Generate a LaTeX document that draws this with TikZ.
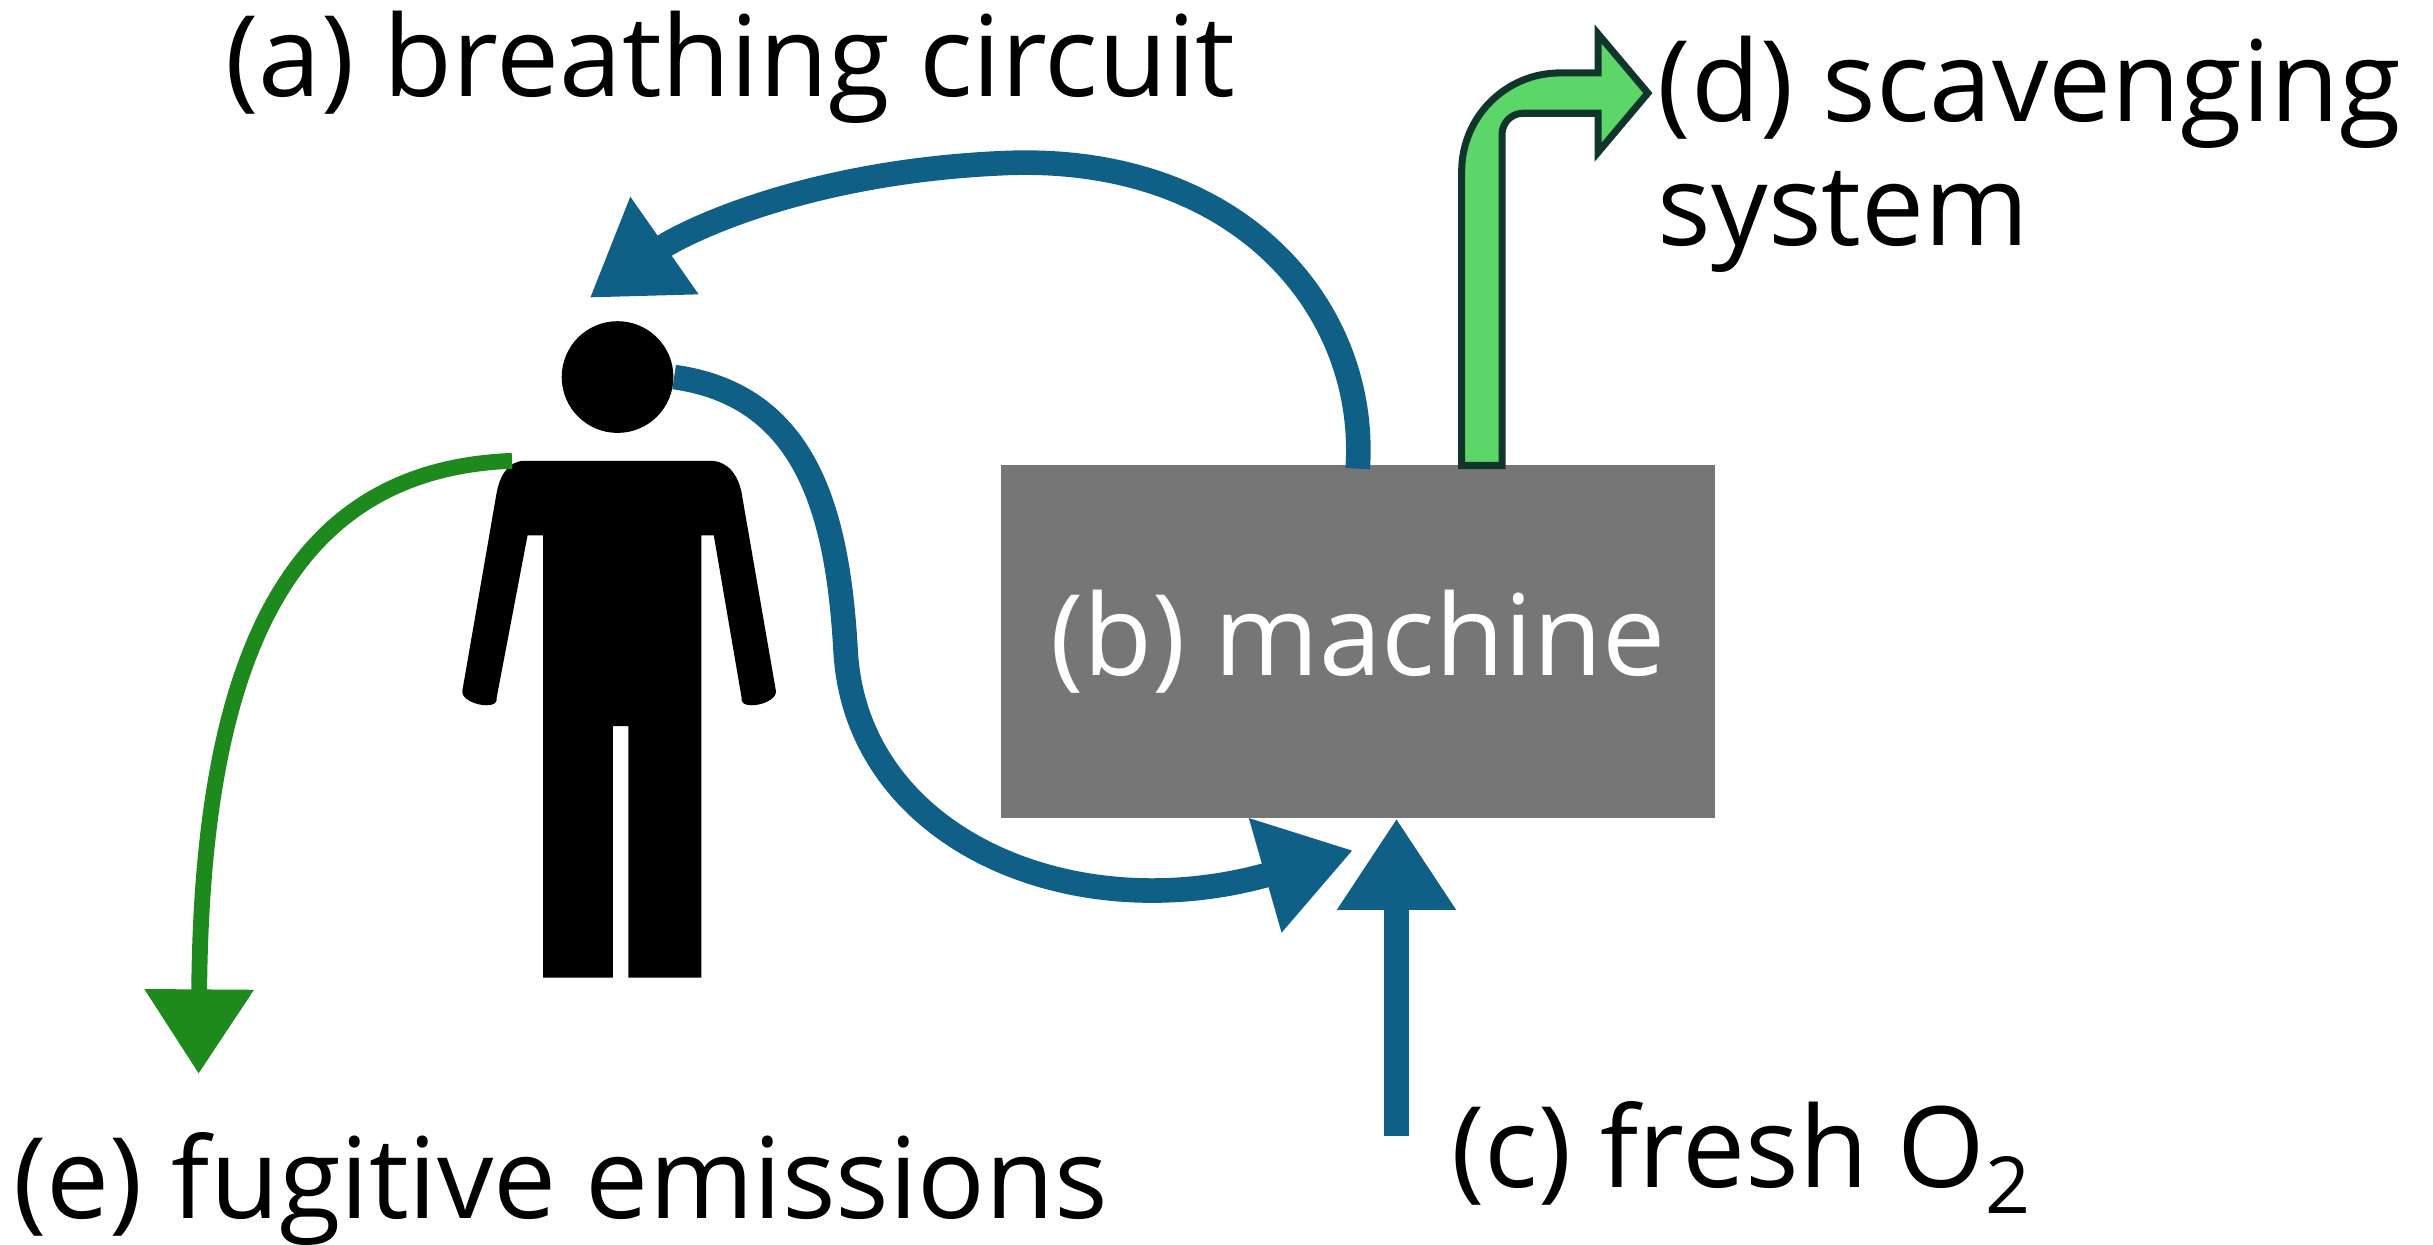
\documentclass[tikz,border=0pt]{standalone}
\usepackage{fontspec}
\setmainfont{Open Sans}
\usetikzlibrary{arrows.meta}
\definecolor{flowblue}{HTML}{0F5F87}
\definecolor{machgray}{HTML}{767676}
\definecolor{scavgreen}{HTML}{5DD669}
\definecolor{scavdark}{HTML}{10362B}
\definecolor{fuggreen}{HTML}{1E8A1E}
\begin{document}
\begin{tikzpicture}[x=0.015517cm,y=-0.015517cm,
  lab/.style={anchor=base west,font=\fontsize{32}{38}\selectfont,inner sep=0},
  blueflow/.style={draw=flowblue,line width=7pt,-{Triangle[width=32pt,length=26pt]}},
  fugflow/.style={draw=fuggreen,line width=4.5pt,-{Triangle[width=30pt,length=24pt]}}]
\useasboundingbox (0,0) rectangle (1568,802);
% machine
\node[fill=machgray,minimum width=460*0.015517cm,minimum height=227*0.015517cm,inner sep=0,
  text=white,font=\fontsize{32}{38}\selectfont] (mach) at (875,413.5) {(b) machine};
% person
\node[circle,fill=black,minimum size=72*0.015517cm,inner sep=0] (head) at (398,243) {};
\fill[black] (338,297) -- (458,297) to[out=0,in=100] (478,318) -- (500,445) to[out=-80,in=-100] (478,450) -- (460,345)
  -- (452,345) -- (452,630) -- (405,630) -- (405,468) -- (395,468) -- (395,630) -- (350,630) -- (350,345)
  -- (340,345) -- (320,450) to[out=-80,in=-100] (298,445) -- (320,318) to[out=80,in=180] (338,297) -- cycle;
\coordinate (pshoulder) at (330,297);
\coordinate (ein) at (128,692);
\coordinate (cin) at (900,732);
\coordinate (mtop) at (875,302);
% (a) breathing circuit
\draw[blueflow] (mtop) .. controls (882,200) and (800,100) .. (650,105) .. controls (520,110) and (440,150) .. (380,192);
% exhalation
\draw[blueflow] (head.east) .. controls (520,255) and (540,330) .. (545,420) .. controls (552,540) and (690,600) .. (872,548);
% (c) fresh O2
\draw[blueflow] (cin) -- (mach.south -| cin);
% (d) scavenging
\filldraw[fill=scavgreen,draw=scavdark,line width=2pt] (942,300) [rounded corners=28] -- (942,47) [sharp corners] -- (1030,47) -- (1030,22) -- (1062,60) -- (1030,98) -- (1030,73) [rounded corners=6] -- (968,73) [sharp corners] -- (968,300) -- cycle;
% (e) fugitive
\draw[fugflow] (pshoulder) .. controls (200,302) and (130,400) .. (ein);
% labels
\node[lab] (la) at (145,62) {(a) breathing circuit};
\node[lab] (ld) at (1068,78) {(d) scavenging};
\node[lab] (ld2) at (1068,158) {system};
\node[lab] (lc) at (935,765) {(c) fresh O\textsubscript{2}};
\node[lab] (le) at (8,785) {(e) fugitive emissions};
\end{tikzpicture}
\end{document}
